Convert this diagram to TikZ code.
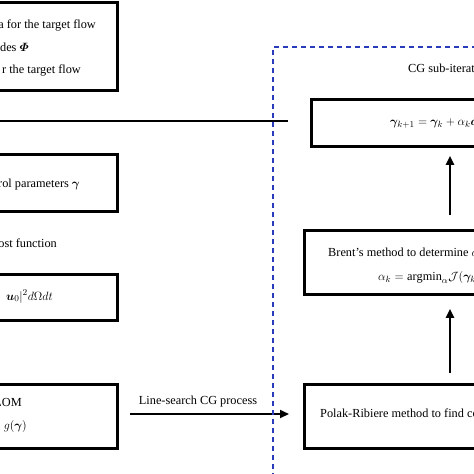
\documentclass[tikz,border=0pt]{standalone}
\usepackage{fontspec}
\setmainfont{Liberation Serif}
\usepackage{amsmath,bm}
\usetikzlibrary{arrows.meta}
\definecolor{dashblue}{RGB}{40,60,185}
\begin{document}
\begin{tikzpicture}[x=1pt,y=-1pt,
  box/.style={draw=black,line width=2.8pt,inner sep=0pt,anchor=north west},
  txt/.style={inner sep=0pt,font=\fontsize{12.3}{14}\selectfont},
  arr/.style={line width=2pt,-{Triangle[length=9pt,width=8pt]}},
  link/.style={line width=2.6pt},
  cgbox/.style={draw=dashblue,line width=1.6pt,dash pattern=on 5pt off 4pt,inner sep=0pt,anchor=north west}]
\useasboundingbox (0,0) rectangle (474,474);
\clip (0,0) rectangle (474,474);

% left column boxes
\node[box,minimum width=216pt,minimum height=88pt] (b1) at (-100,0.8) {};
\node[box,minimum width=216pt,minimum height=57pt] (b2) at (-100,153) {};
\node[box,minimum width=216pt,minimum height=46pt] (b3) at (-100,273) {};
\node[box,minimum width=216pt,minimum height=64pt] (b4) at (-100,383) {};

% right column boxes
\node[box,minimum width=200pt,minimum height=47pt] (gbox) at (310,98) {};
\node[box,minimum width=200pt,minimum height=64pt] (brent) at (303,229) {};
\node[box,minimum width=200pt,minimum height=64pt] (polak) at (303,383) {};

% texts left
\node[txt,anchor=base east] (t1a) at (96,28) {a for the target flow};
\node[txt,anchor=base east] (t1b) at (29,51) {des $\bm{\varPhi}$};
\node[txt,anchor=base east] (t1c) at (81,73) {r the target flow};
\node[txt,anchor=base east] (t2) at (80,187) {rol parameters $\bm{\gamma}$};
\node[txt,anchor=base east] (t3h) at (57,247) {ost function};
\node[txt,anchor=base east] (t3) at (53,300) {$\bm{u}_0|^2 d\Omega dt$};
\node[txt,anchor=base east] (t4a) at (22,406) {LOM};
\node[txt,anchor=base east] (t4b) at (27,429) {$g(\bm{\gamma})$};

% label of line search
\node[txt,anchor=base] (lsl) at (198,404) {Line-search CG process};

% texts right
\node[txt,anchor=base west] (cgl) at (408,72) {CG sub-iterations};
\node[txt,anchor=base west] (tg) at (390,125) {$\bm{\gamma}_{k+1}=\bm{\gamma}_k+\alpha_k\bm{d}_k$};
\node[txt,anchor=base west] (tb1) at (328,256) {Brent’s method to determine $\alpha_k$};
\node[txt,anchor=base west] (tb2) at (378,280) {$\alpha_k=\mathrm{argmin}_{\alpha}\mathcal{J}(\bm{\gamma}_k+\alpha\bm{d}_k)$};
\node[txt,anchor=base west] (tp) at (320,417) {Polak-Ribiere method to find conjugate direction};

% connectors
\coordinate (hl) at (-5,121);
\draw[link,shorten >=22pt] (hl) -- (hl -| gbox.west);
\coordinate (ls) at (130,414);
\draw[arr,shorten >=14pt] (ls) -- (ls -| polak.west);
\coordinate (ax) at (450,0);
\draw[arr,shorten <=14pt,shorten >=8pt] (ax |- brent.north) -- (ax |- gbox.south);
\draw[arr,shorten <=10pt,shorten >=13pt] (ax |- polak.north) -- (ax |- brent.south);

% dashed CG sub-iteration frame
\node[cgbox,minimum width=320pt,minimum height=500pt] (cg) at (272,46) {};
\end{tikzpicture}
\end{document}
